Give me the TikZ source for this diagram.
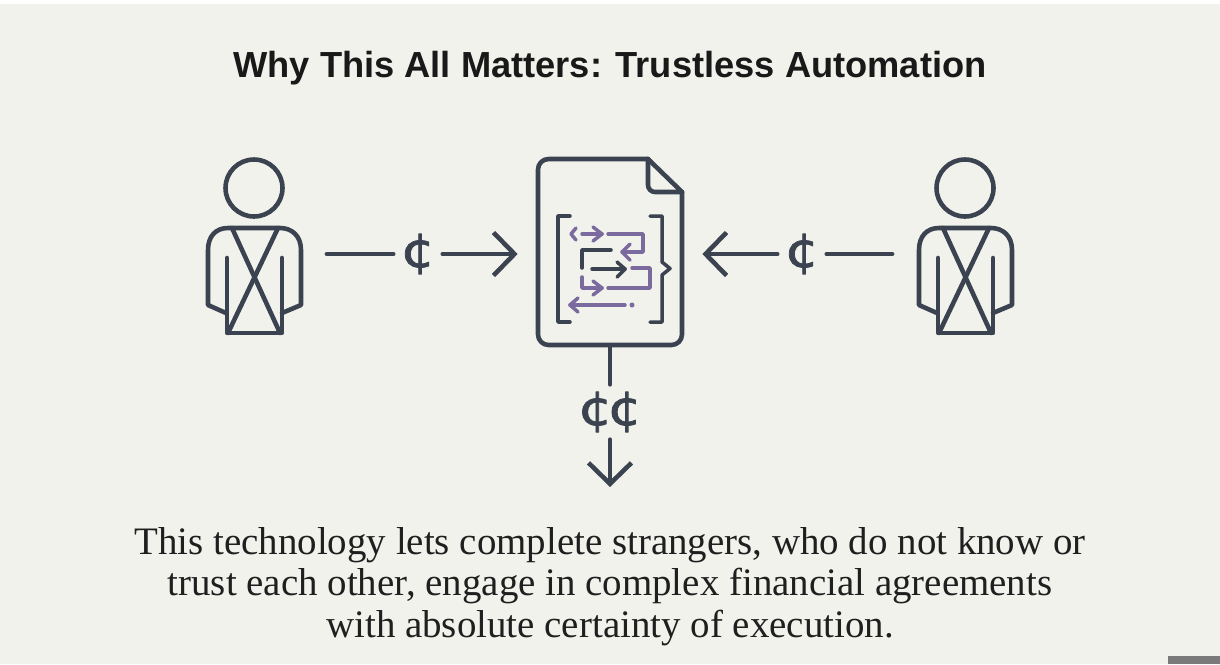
\documentclass[tikz,border=0pt]{standalone}
\usepackage{fontspec}
\usepackage{xcolor}
\usetikzlibrary{positioning,calc,arrows.meta}
\setmainfont{Liberation Serif}
\newfontfamily\titlefont{Liberation Sans}
\newfontfamily\centfont[FakeBold=1.6,FakeStretch=1.15]{DejaVu Sans}
\definecolor{paper}{HTML}{F2F2ED}
\definecolor{ink}{HTML}{3C4350}
\definecolor{grape}{HTML}{7B6A9E}
\definecolor{cornerbar}{HTML}{7A7A7A}

\begin{document}
\begin{tikzpicture}[
          x=0.02cm, y=-0.02cm,
          line cap=round,
          line join=round,
          outline/.style={draw=ink, line width=2.6pt},
          flowline/.style={draw=grape, line width=2pt},
          flowdark/.style={draw=ink, line width=2pt},
          centmark/.style={font=\centfont\fontsize{27}{27}\selectfont, text=ink, inner sep=4pt},
          hitbox/.style={inner sep=0pt, minimum width=1.86cm, minimum height=3.48cm},
          docbox/.style={inner sep=0pt, minimum width=2.88cm, minimum height=3.72cm},
          wire/.style={outline},
          arrow/.style={outline, -{Straight Barb[length=4.2mm, width=8.6mm, line width=2.6pt]}}
        ]
          % Page
          \useasboundingbox (0,0) rectangle (1220,664);
          \fill[white] (0,0) rectangle (1220,664);
          \fill[paper] (0,4) rectangle (1220,664);
          \fill[cornerbar] (1168,656) rectangle (1220,664);

          % Title
          \node[font=\titlefont\bfseries\fontsize{20.65}{24}\selectfont, text=black!90] (title) at (610,68.5) {Why This All Matters: Trustless Automation};

          % Two parties
          \foreach \px/\pname in {254/personl, 965/personr} {
            \begin{scope}[shift={(\px,0)}]
              \node[hitbox] (\pname) at (0,246) {};
              \draw[outline] (0,188) circle (28.5);
              \draw[outline] (-28,313) -- (-46,305) -- (-46,250)
                .. controls (-46,236) and (-38,228) .. (-26,228) -- (26,228)
                .. controls (38,228) and (47,236) .. (47,250) -- (47,305) -- (28,313);
              \draw[outline] (-27,258) -- (-27,333) -- (28,333) -- (28,258);
              \draw[outline] (-22,228) -- (26,333);
              \draw[outline] (24,228) -- (-26,333);
            \end{scope}
          }

          % Contract document
          \node[docbox] (doc) at (610,252) {};
          \draw[outline, rounded corners=6pt] (648,159) -- (538,159) -- (538,345) -- (682,345) -- (682,192);
          \draw[outline] (648,159) -- (682,192);
          \draw[outline, rounded corners=4pt] (648,159) -- (648,192) -- (682,192);

          % Brackets
          \draw[flowdark] (570,216) -- (558,216) -- (558,322) -- (570,322);
          \draw[flowdark] (650,216) -- (662,216) -- (662,262) -- (670,268.5) -- (662,275) -- (662,322) -- (650,322);

          % Logic inside the contract
          \draw[flowline] (576,228) -- (571,234) -- (576,240);
          \draw[flowline] (582,234) -- (602,234);
          \draw[flowline] (593,227) -- (602,234) -- (593,241);
          \draw[flowline] (608,234) -- (643,234) -- (643,252) -- (622,252);
          \draw[flowline] (630,244) -- (622,252) -- (630,260);
          \draw[flowdark] (611,250) -- (582,250) -- (582,268);
          \draw[flowdark] (592,269) -- (625,269);
          \draw[flowdark] (617,262) -- (625,269) -- (617,277);
          \draw[flowline] (632,268) -- (650,268) -- (650,288) -- (608,288);
          \draw[flowline] (582,277) -- (582,288) -- (602,288);
          \draw[flowline] (593,281) -- (602,288) -- (593,295);
          \draw[flowline] (625,305) -- (570,305);
          \draw[flowline] (578,298) -- (570,305) -- (578,312);
          \fill[grape] (632,305) circle (2.5);

          % Payments
          \node[centmark] (centl) at (418,254) {¢};
          \node[centmark] (centr) at (802,254) {¢};
          \node[centmark] (centd) at (610,412) {¢\kern-3pt¢};
          \coordinate (payout) at (610,487);

          \draw[wire, shorten <=0.52cm] (personl.east |- centl) -- (centl);
          \draw[arrow, shorten >=0.4cm] (centl) -- (doc.west |- centl);
          \draw[wire, shorten <=0.52cm] (personr.west |- centr) -- (centr);
          \draw[arrow, shorten >=0.4cm] (centr) -- (doc.east |- centr);
          \draw[wire] (doc.south) -- (centd);
          \draw[arrow] (centd) -- (payout);

          % Caption
          \node[align=center, font=\fontsize{22.15}{23.8}\selectfont, text=black!88] (caption) at (610,586.5) {This technology lets complete strangers, who do not know or\\trust each other, engage in complex financial agreements\\with absolute certainty of execution.};
        \end{tikzpicture}
\end{document}
